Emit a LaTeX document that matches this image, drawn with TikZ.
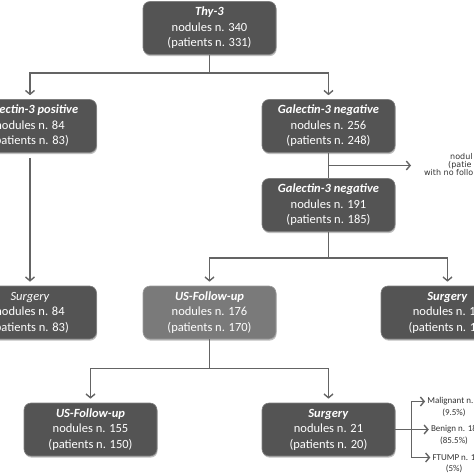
\documentclass[tikz,border=0pt]{standalone}
\usepackage{fontspec}
\setmainfont{Carlito}
\newfontfamily\notefont{DejaVu Sans}
\usetikzlibrary{positioning,arrows.meta,shadows}
\definecolor{boxgray}{HTML}{545454}
\definecolor{boxlight}{HTML}{7A7A7A}
\definecolor{linegray}{HTML}{646464}
\tikzset{
     flow box/.style={rectangle, rounded corners=7pt, fill=boxgray, draw=boxgray!75!white,
        line width=0.6pt, text=white, minimum width=133pt, minimum height=53pt,
        align=center, inner sep=2pt, font=\fontsize{12.5}{15.5}\selectfont,
        general shadow={fill=black!25, shadow xshift=0.6pt, shadow yshift=-1.6pt}},
      light box/.style = {flow box, fill=boxlight, draw=boxlight!75!white},
      flowline/.style  = {linegray, line width=1.4pt},
      flowedge/.style  = {flowline, -{Straight Barb[length=3.8pt,width=9pt]}, shorten >=4pt},
      outcome/.style   = {font=\fontsize{9}{11}\selectfont, text=black!80, inner sep=1pt},
      note/.style      = {font=\notefont\fontsize{8}{8}\selectfont, text=black!80, inner sep=0pt, anchor=west},
    }

\begin{document}
\begin{tikzpicture}[x=1pt,y=-1pt,on grid]
        \useasboundingbox (0,0) rectangle (474,474);
        \clip (0,0) rectangle (474,474);

        \node [flow box] (thy) at (209.5,28) {\textbf{\textit{Thy-3}}\\nodules n. 340\\(patients n. 331)};
        \node [flow box] (gpos) [below left=98pt and 179.5pt of thy] {\textbf{\textit{Galectin-3 positive}}\\nodules n. 84\\(patients n. 83)};
        \node [flow box] (gneg) [below right=98pt and 119pt of thy] {\textbf{\textit{Galectin-3 negative}}\\nodules n. 256\\(patients n. 248)};
        \node [flow box] (gneg2) [below=79pt of gneg] {\textbf{\textit{Galectin-3 negative}}\\nodules n. 191\\(patients n. 185)};
        \node [flow box] (sleft) [below=186.5pt of gpos] {\textit{Surgery}\\nodules n. 84\\(patients n. 83)};
        \node [light box] (usf) [below left=107.5pt and 119pt of gneg2] {\textbf{\textit{US-Follow-up}}\\nodules n. 176\\(patients n. 170)};
        \node [flow box] (sright) [below right=107.5pt and 119pt of gneg2] {\textbf{\textit{Surgery}}\\nodules n. 15\\(patients n. 15)};
        \node [flow box] (usf2) [below left=117pt and 119pt of usf] {\textbf{\textit{US-Follow-up}}\\nodules n. 155\\(patients n. 150)};
        \node [flow box] (surg2) [below right=117pt and 119pt of usf] {\textbf{\textit{Surgery}}\\nodules n. 21\\(patients n. 20)};

        % outcomes of surgery
        \node [outcome] (ben) [right=125.5pt of surg2] {Benign n. 18};
        \node [outcome] (mal) [above=28pt of ben] {Malignant n. 2};
        \node [outcome] (ftu) [below=28pt of ben] {FTUMP n. 1};
        \node [outcome] (malp) [below=11pt of mal] {(9.5\%)};
        \node [outcome] (benp) [below=11pt of ben] {(85.5\%)};
        \node [outcome] (ftup) [below=11pt of ftu] {(5\%)};

        % no follow-up note
        \node [note] (nofua) at (450,157) {nodul};
        \node [note] (nofub) at (448,165) {(patie};
        \node [note] (nofuc) at (424,173) {with no follo};
        \coordinate (nofu) at (411,165.5);

        \draw [flowedge] (thy.south) -- ++(0,18) -| (gpos.north);
        \draw [flowedge] (thy.south) -- ++(0,18) -| (gneg.north);
        \draw [flowline] (gneg.south) -- (gneg2.north);
        \draw [flowedge, shorten >=0pt] (gneg.south |- nofu) -- (nofu);
        \draw [flowedge, shorten <=5pt] (gpos.south) -- (sleft.north);
        \draw [flowedge] (gneg2.south) -- ++(0,26) -| (usf.north);
        \draw [flowedge] (gneg2.south) -- ++(0,26) -| (sright.north);
        \draw [flowedge] (usf.south) -- ++(0,29) -| (usf2.north);
        \draw [flowedge] (usf.south) -- ++(0,29) -| (surg2.north);

        \path (surg2.east) ++(16,0) coordinate (split);
        \draw [flowedge, shorten >=1pt] (surg2.east) -- (ben.west);
        \draw [flowedge, shorten >=1pt] (split) |- (mal.west);
        \draw [flowedge, shorten >=1pt] (split) |- (ftu.west);
    \end{tikzpicture}
\end{document}
